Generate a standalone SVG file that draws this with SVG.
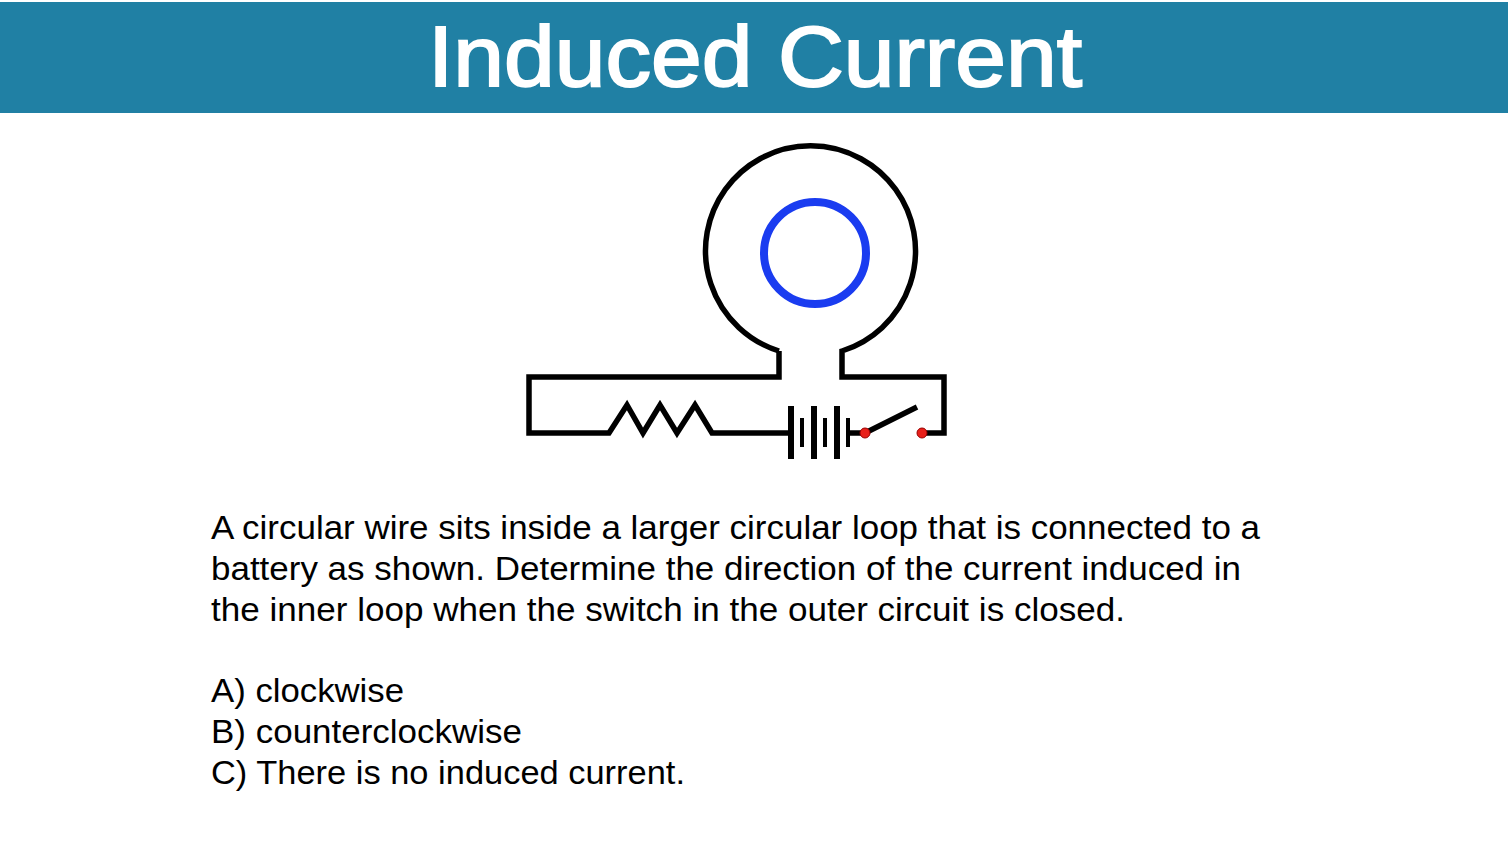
<svg xmlns="http://www.w3.org/2000/svg" width="1508" height="850" viewBox="0 0 1508 850">
<style>
.w{fill:none;stroke:#000;stroke-width:5.5;stroke-linejoin:miter}
.t{font-family:"Liberation Sans",Arial,sans-serif;font-size:33px;fill:#000}
.dot{fill:#e8201a;stroke:#900;stroke-width:1}
</style>
<rect x="0" y="0" width="1508" height="850" fill="#fff"/>
<rect x="0" y="2" width="1508" height="111" fill="#2080a4"/>
<text x="428" y="86" textLength="654" lengthAdjust="spacingAndGlyphs" font-family="Liberation Sans,Arial,sans-serif" font-size="86" fill="#fff" stroke="#fff" stroke-width="2">Induced Current</text>
<g id="circuit">
<path class="w" d="M779,351 A105,105 0 1 1 842,351 L842,377 L944,377 L944,433 L922,433"/>
<path class="w" d="M779,351 L779,377 L529,377 L529,433 L609,433 L627,405 L643,433 L660,405 L677,433 L695,405 L712,433 L790,433"/>
<path class="w" d="M848,433 L865,433 M865,433 L917,407"/>
<g stroke="#000" stroke-width="6">
<line x1="791" y1="406" x2="791" y2="459"/><line x1="814" y1="406" x2="814" y2="459"/><line x1="837" y1="406" x2="837" y2="459"/>
<line x1="802" y1="418" x2="802" y2="447" stroke-width="4"/><line x1="825" y1="418" x2="825" y2="447" stroke-width="4"/><line x1="848" y1="418" x2="848" y2="447" stroke-width="4"/>
</g>
<circle class="dot" cx="865" cy="433" r="5"/>
<circle class="dot" cx="922" cy="433" r="5"/>
</g>
<g id="inner-loop"><circle cx="815" cy="253" r="51" fill="none" stroke="#1a3cf0" stroke-width="8"/></g>
<g id="text">
<text class="t" x="211" y="539" textLength="1049" lengthAdjust="spacingAndGlyphs">A circular wire sits inside a larger circular loop that is connected to a</text>
<text class="t" x="211" y="580" textLength="1030" lengthAdjust="spacingAndGlyphs">battery as shown. Determine the direction of the current induced in</text>
<text class="t" x="211" y="621" textLength="914" lengthAdjust="spacingAndGlyphs">the inner loop when the switch in the outer circuit is closed.</text>
<text class="t" x="211" y="702" textLength="193" lengthAdjust="spacingAndGlyphs">A) clockwise</text>
<text class="t" x="211" y="743" textLength="311" lengthAdjust="spacingAndGlyphs">B) counterclockwise</text>
<text class="t" x="211" y="784" textLength="474" lengthAdjust="spacingAndGlyphs">C) There is no induced current.</text>
</g>
</svg>
